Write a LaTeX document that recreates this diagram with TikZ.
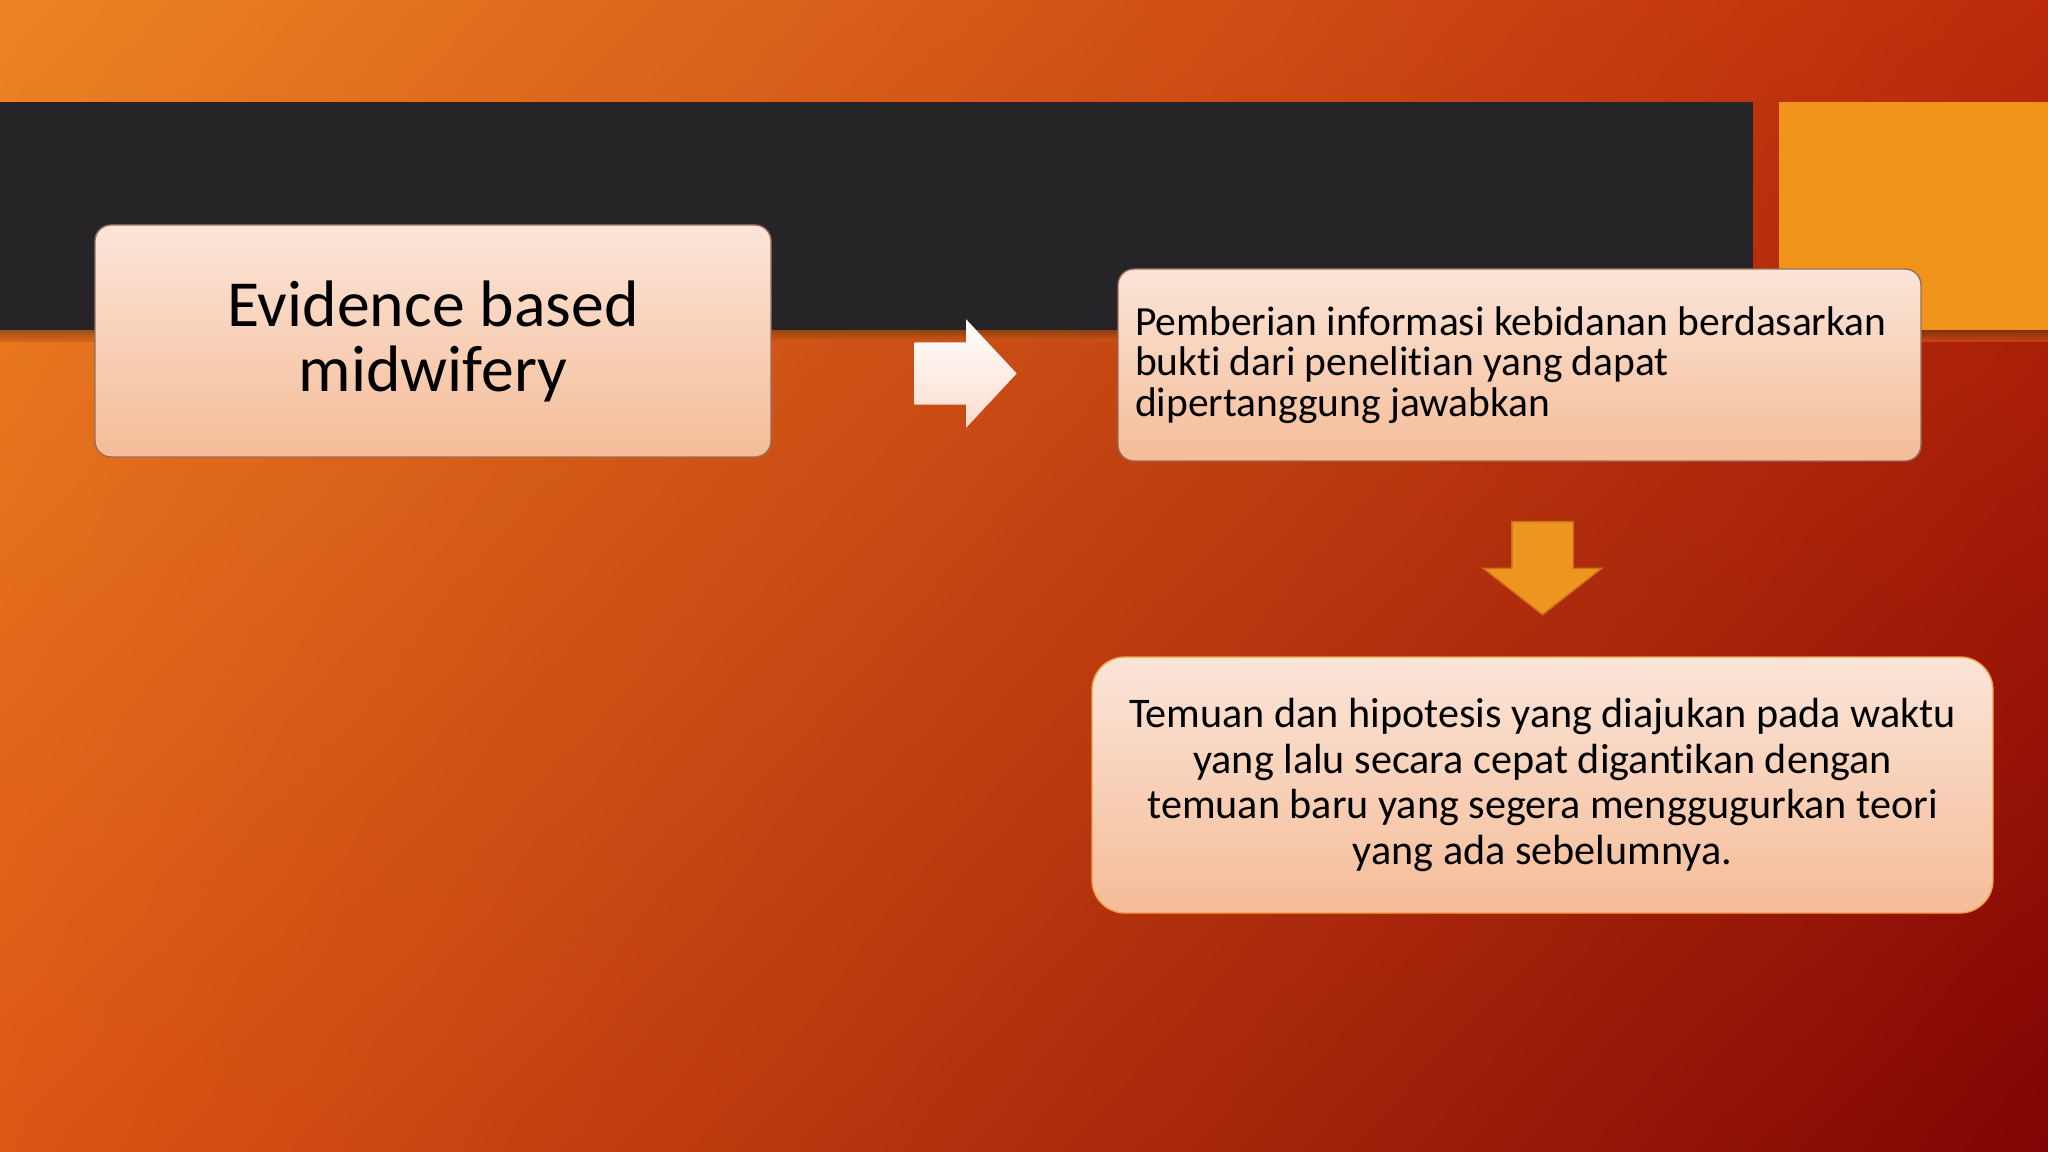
\documentclass[tikz,border=0pt]{standalone}
\usepackage{fontspec}
\setmainfont{Carlito}[Ligatures=NoCommon]
\usetikzlibrary{shapes.arrows,shadings,positioning}
\definecolor{bgtl}{RGB}{236,132,36}
\definecolor{bgtr}{RGB}{188,42,10}
\definecolor{bgbl}{RGB}{220,86,20}
\definecolor{bgbr}{RGB}{128,4,4}
\definecolor{bandgray}{RGB}{38,36,39}
\definecolor{squareorange}{RGB}{239,147,25}
\definecolor{peachtop}{RGB}{251,229,216}
\definecolor{peachbot}{RGB}{245,188,152}
\definecolor{boxedge}{RGB}{150,110,90}
\definecolor{boxedgeorange}{RGB}{240,160,70}
\definecolor{arroworange}{RGB}{238,149,32}
\definecolor{arrowedge}{RGB}{200,112,26}

\begin{document}
\begin{tikzpicture}[
              textbox/.style={rounded corners=1.6mm, draw=boxedge, line width=0.4pt,
                              top color=peachtop, bottom color=peachbot,
                              text=black, inner sep=0pt},
              blockarrow/.style={single arrow, anchor=tail, minimum height=#1},
             ]
\useasboundingbox (0,0) rectangle (20.48,-11.52);
% background
\shade[upper left=bgtl, upper right=bgtr, lower left=bgbl, lower right=bgbr]
      (0,0) rectangle (20.48,-11.52);
\shade[top color=black!55!bgtl, bottom color=bgbl!90!bgtl, opacity=0.6]
      (0,-3.30) rectangle (20.48,-3.42);
\fill[bandgray] (0,-1.02) rectangle (17.53,-3.30);
\fill[squareorange] (17.79,-1.02) rectangle (20.48,-3.30);

% boxes
\node[textbox, minimum width=6.76cm, minimum height=2.32cm, align=center,
      font=\fontsize{18.7}{18.5}\selectfont] (evidence) at (4.33,-3.41)
      {Evidence based\\midwifery};
\node[textbox, minimum width=8.03cm, minimum height=1.92cm, text width=7.69cm, align=flush left,
      font=\fontsize{11.8}{11.6}\selectfont] (pemberian) at (15.195,-3.65)
      {Pemberian informasi kebidanan berdasarkan\\bukti dari penelitian yang dapat\\dipertanggung jawabkan};
\node[textbox, rounded corners=3.3mm, draw=boxedgeorange, minimum width=9.01cm,
      minimum height=2.56cm, align=center, font=\fontsize{12}{13}\selectfont] (temuan) at (15.425,-7.85)
      {Temuan dan hipotesis yang diajukan pada waktu\\yang lalu secara cepat digantikan dengan\\temuan baru yang segera menggugurkan teori\\yang ada sebelumnya.};

% arrows
\node[blockarrow=1.02cm, inner xsep=0.2cm, inner ysep=0.305cm, single arrow head extend=0.23cm,
      single arrow tip angle=94, top color=white, bottom color=peachtop!80!peachbot] (toright) at (9.14,-3.735) {};
\node[blockarrow=0.93cm, inner xsep=0.30cm, inner ysep=0.2cm, single arrow head extend=0.285cm,
      single arrow tip angle=104, shape border rotate=270, fill=arroworange, draw=arrowedge,
      line width=0.4pt] (todown) at (15.425,-5.21) {};
\end{tikzpicture}
\end{document}
